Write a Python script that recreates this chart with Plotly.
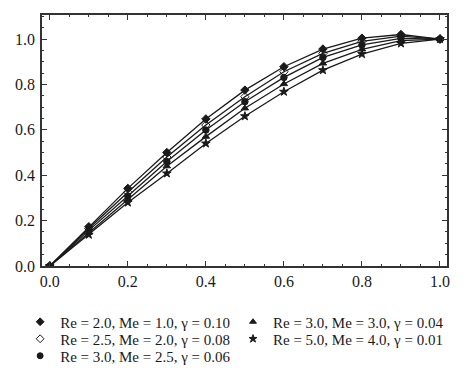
import plotly.graph_objects as go

x = [0.0, 0.1, 0.2, 0.3, 0.4, 0.5, 0.6, 0.7, 0.8, 0.9, 1.0]
s1 = [0.0, 0.173, 0.342, 0.500, 0.648, 0.775, 0.878, 0.956, 1.004, 1.020, 1.0]
s2 = [0.0, 0.165, 0.325, 0.480, 0.621, 0.746, 0.856, 0.937, 0.990, 1.013, 1.0]
s3 = [0.0, 0.157, 0.308, 0.460, 0.599, 0.724, 0.831, 0.919, 0.974, 1.003, 1.0]
s4 = [0.0, 0.148, 0.294, 0.440, 0.570, 0.695, 0.802, 0.893, 0.955, 0.993, 1.0]
s5 = [0.0, 0.138, 0.280, 0.408, 0.540, 0.660, 0.768, 0.863, 0.934, 0.981, 1.0]

names = ["Re = 2.0, Me = 1.0, γ = 0.10",
         "Re = 2.5, Me = 2.0, γ = 0.08",
         "Re = 3.0, Me = 2.5, γ = 0.06",
         "Re = 3.0, Me = 3.0, γ = 0.04",
         "Re = 5.0, Me = 4.0, γ = 0.01"]
symbols = ["diamond", "diamond-open", "circle", "triangle-up", "star"]
series = [s1, s2, s3, s4, s5]
legends = ["legend", "legend2", "legend3", "legend4", "legend5"]

ink = "#1a1a1a"
serif = "Liberation Serif, Times New Roman, serif"

fig = go.Figure()
for ys, sym in zip(series, symbols):
    fig.add_trace(go.Scatter(x=x, y=ys, mode="lines+markers",
                             line=dict(color=ink, width=1.3),
                             marker=dict(symbol=sym, size=6.5, color=ink,
                                         line=dict(color=ink, width=1)),
                             showlegend=False))
for nm, sym, lg in zip(names, symbols, legends):
    fig.add_trace(go.Scatter(x=[None], y=[None], mode="markers", name=nm,
                             marker=dict(symbol=sym, size=6, color=ink,
                                         line=dict(color=ink, width=1)),
                             legend=lg, showlegend=True))

axis_common = dict(showgrid=False, zeroline=False, showline=True, linecolor="#333",
                   linewidth=1.5, mirror="ticks", ticks="inside", ticklen=5,
                   tickcolor="#333", tickwidth=1,
                   tickfont=dict(family=serif, size=16, color=ink),
                   tickformat=".1f",
                   minor=dict(ticks="inside", ticklen=2.5, tickcolor="#333", dtick=0.05))

fig.update_xaxes(range=[-0.02, 1.018], dtick=0.2, tick0=0, **axis_common)
fig.update_yaxes(range=[0, 1.106], dtick=0.2, tick0=0, ticklabelstandoff=2, **axis_common)

legfont = dict(family=serif, size=15, color=ink)
# legend boxes (paper coordinates): column x, row centre y
col_x = [-0.054, -0.054, -0.054, 0.4716, 0.4716]
row_y = [-0.2231, -0.2908, -0.3586, -0.2231, -0.2908]
layout_legends = {}
for lg, lx, ly in zip(legends, col_x, row_y):
    layout_legends[lg] = dict(x=lx, y=ly, xanchor="left", yanchor="middle", font=legfont,
                              bgcolor="rgba(0,0,0,0)")

fig.update_layout(
    width=474, height=389,
    margin=dict(l=42, r=27, t=15, b=123),
    plot_bgcolor="white", paper_bgcolor="white",
    **layout_legends,
)

fig.write_html("out.html",
               config={"displayModeBar": False},
               post_script="document.body.style.margin='0';document.body.style.padding='0';")
